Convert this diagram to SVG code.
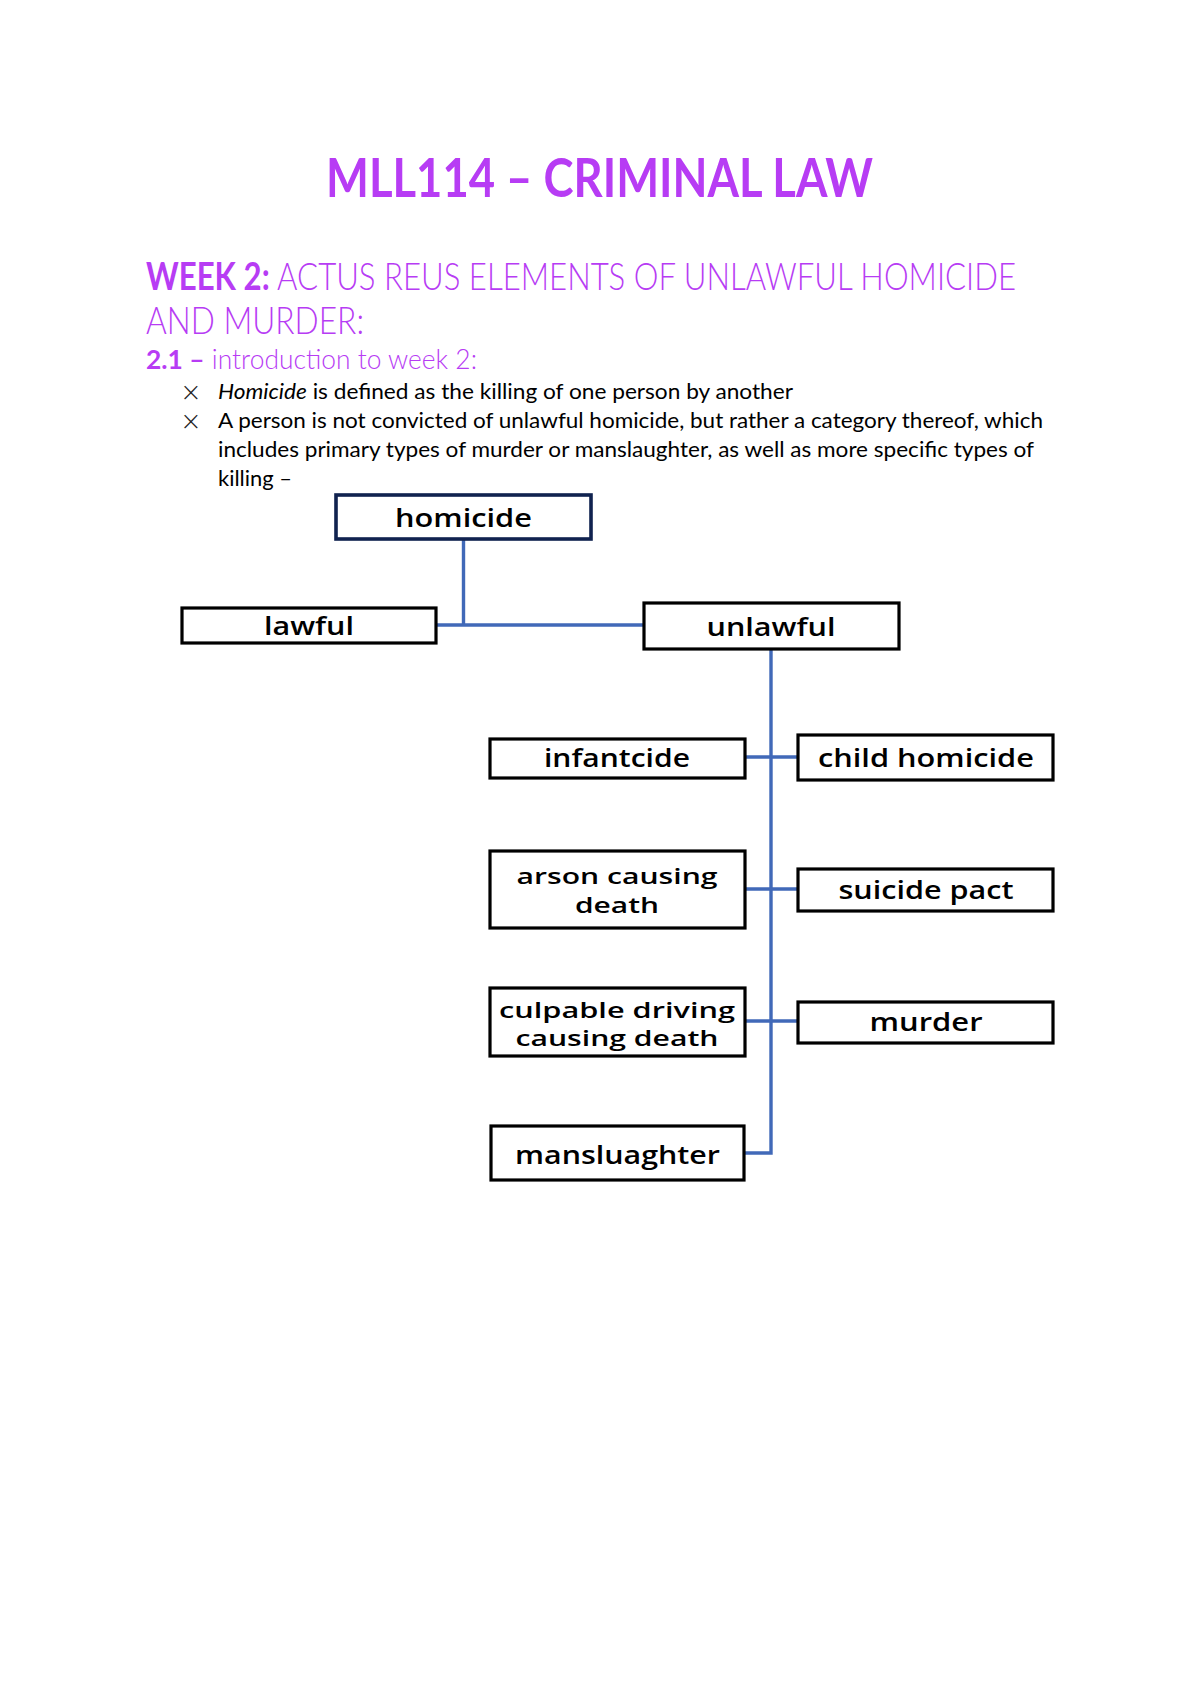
<svg xmlns="http://www.w3.org/2000/svg" width="1200" height="1698" viewBox="0 0 1200 1698">
<style>
.h{font-family:Lato,"Open Sans","Liberation Sans",sans-serif;fill:#B73CF4}
.b{font-family:Lato,"Open Sans","Liberation Sans",sans-serif;fill:#000;font-size:22px}
.x{font-family:"DejaVu Sans",sans-serif;font-size:26px;font-weight:200;fill:#222;text-anchor:middle}
.box{fill:#fff;stroke:#000;stroke-width:3.2}
.top{fill:#fff;stroke:#10224F;stroke-width:3.6}
.lbl{font-family:"Open Sans","DejaVu Sans",sans-serif;font-weight:600;font-size:25px;fill:#000;text-anchor:middle}
.two{font-size:22px}
.con{fill:none;stroke:#4169B8;stroke-width:3.4}
</style>
<rect width="1200" height="1698" fill="#fff"/>
<text class="h" x="326" y="197" font-size="54" font-weight="bold" textLength="547" lengthAdjust="spacingAndGlyphs">MLL114 – CRIMINAL LAW</text>
<text class="h" x="146" y="290" font-size="38" font-weight="300" textLength="870" lengthAdjust="spacingAndGlyphs"><tspan font-weight="bold">WEEK 2:</tspan> ACTUS REUS ELEMENTS OF UNLAWFUL HOMICIDE</text>
<text class="h" x="146" y="334" font-size="38" font-weight="300" textLength="218" lengthAdjust="spacingAndGlyphs">AND MURDER:</text>
<text class="h" x="146" y="369" font-size="27" font-weight="300" textLength="331" lengthAdjust="spacingAndGlyphs"><tspan font-weight="bold">2.1 –</tspan> introduction to week 2:</text>
<text class="x" x="191" y="401">×</text>
<text class="x" x="191" y="430">×</text>
<text class="b" x="218" y="399" textLength="575" lengthAdjust="spacingAndGlyphs"><tspan font-style="italic">Homicide</tspan> is defined as the killing of one person by another</text>
<text class="b" x="218" y="428" textLength="825" lengthAdjust="spacingAndGlyphs">A person is not convicted of unlawful homicide, but rather a category thereof, which</text>
<text class="b" x="218" y="457" textLength="816" lengthAdjust="spacingAndGlyphs">includes primary types of murder or manslaughter, as well as more specific types of</text>
<text class="b" x="218" y="486" textLength="74" lengthAdjust="spacingAndGlyphs">killing –</text>
<g id="connectors">
<polyline class="con" points="463.5,539 463.5,625"/>
<polyline class="con" points="436,625 644,625"/>
<polyline class="con" points="771,649 771,1153 744,1153"/>
<polyline class="con" points="745,757 798,757"/>
<polyline class="con" points="745,889 798,889"/>
<polyline class="con" points="745,1021 798,1021"/>
</g>
<g id="homicide"><rect class="top" x="336" y="495" width="255" height="44"/><text class="lbl" x="463.5" y="527" textLength="137" lengthAdjust="spacingAndGlyphs">homicide</text></g>
<g id="lawful"><rect class="box" x="182" y="608" width="254" height="35"/><text class="lbl" x="309" y="635" textLength="90" lengthAdjust="spacingAndGlyphs">lawful</text></g>
<g id="unlawful"><rect class="box" x="644" y="603" width="255" height="46"/><text class="lbl" x="771" y="636" textLength="129" lengthAdjust="spacingAndGlyphs">unlawful</text></g>
<g id="infantcide"><rect class="box" x="490" y="739" width="255" height="39"/><text class="lbl" x="617" y="767" textLength="146" lengthAdjust="spacingAndGlyphs">infantcide</text></g>
<g id="child-homicide"><rect class="box" x="798" y="735" width="255" height="45"/><text class="lbl" x="926" y="767" textLength="216" lengthAdjust="spacingAndGlyphs">child homicide</text></g>
<g id="arson"><rect class="box" x="490" y="851" width="255" height="77"/><text class="lbl two" x="617" y="884" textLength="201" lengthAdjust="spacingAndGlyphs">arson causing</text><text class="lbl two" x="617" y="913" textLength="84" lengthAdjust="spacingAndGlyphs">death</text></g>
<g id="suicide-pact"><rect class="box" x="798" y="869" width="255" height="42"/><text class="lbl" x="926" y="899" textLength="175" lengthAdjust="spacingAndGlyphs">suicide pact</text></g>
<g id="culpable"><rect class="box" x="490" y="988" width="255" height="68"/><text class="lbl two" x="617" y="1018" textLength="236" lengthAdjust="spacingAndGlyphs">culpable driving</text><text class="lbl two" x="617" y="1046" textLength="203" lengthAdjust="spacingAndGlyphs">causing death</text></g>
<g id="murder"><rect class="box" x="798" y="1002" width="255" height="41"/><text class="lbl" x="926" y="1031" textLength="113" lengthAdjust="spacingAndGlyphs">murder</text></g>
<g id="mansluaghter"><rect class="box" x="491" y="1126" width="253" height="54"/><text class="lbl" x="617.5" y="1164" textLength="205" lengthAdjust="spacingAndGlyphs">mansluaghter</text></g>
</svg>
